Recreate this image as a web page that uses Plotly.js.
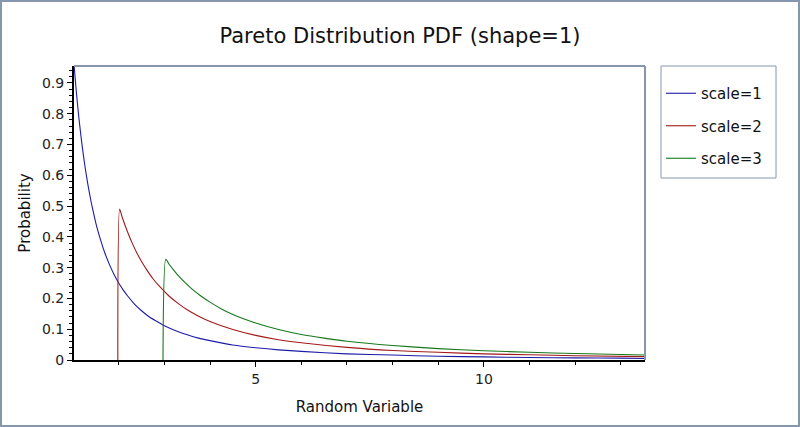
<!DOCTYPE html>
<html>
<head>
<meta charset="utf-8">
<script src="https://cdn.plot.ly/plotly-3.0.1.min.js"></script>
<style>
  body { margin: 0; background: #fff; }
  #chart { width: 800px; height: 427px; }
</style>
</head>
<body>
<div id="chart"></div>
<script>
// values
var scale1X = [1.02, 1.04, 1.07, 1.1, 1.13, 1.16, 1.2, 1.24, 1.28, 1.32, 1.36, 1.4, 1.45, 1.5, 1.55, 1.6, 1.7, 1.8, 1.9, 2.0,
  2.1, 2.2, 2.35, 2.5, 2.65, 2.8, 3.0, 3.25, 3.5, 3.75, 4.0, 4.5, 5, 5.5, 6, 7, 8, 9, 10, 11, 12, 13, 13.53];
var scale1Y = [0.961, 0.925, 0.873, 0.826, 0.783, 0.743, 0.694, 0.650, 0.610, 0.574, 0.541, 0.510, 0.476, 0.444, 0.416, 0.391,
  0.346, 0.309, 0.277, 0.250, 0.227, 0.207, 0.181, 0.160, 0.142, 0.128, 0.111, 0.095, 0.082, 0.071, 0.063, 0.049, 0.040,
  0.033, 0.028, 0.020, 0.016, 0.012, 0.010, 0.008, 0.007, 0.006, 0.005];

var scale2X = [1.98, 2.02, 2.08, 2.15, 2.22, 2.3, 2.4, 2.5, 2.6, 2.75, 2.9, 3.1, 3.3, 3.5, 3.75, 4, 4.5, 5, 5.5, 6, 7, 8, 9, 10, 11, 12, 13.53];
var scale2Y = [0, 0.490, 0.462, 0.433, 0.406, 0.378, 0.347, 0.320, 0.296, 0.264, 0.238, 0.208, 0.184, 0.163, 0.142, 0.125,
  0.099, 0.080, 0.066, 0.056, 0.041, 0.031, 0.025, 0.020, 0.017, 0.014, 0.011];

var scale3X = [2.97, 3.03, 3.1, 3.2, 3.3, 3.45, 3.6, 3.8, 4.0, 4.25, 4.5, 4.75, 5, 5.5, 6, 6.5, 7, 8, 9, 10, 11, 12, 13.53];
var scale3Y = [0, 0.327, 0.312, 0.293, 0.275, 0.252, 0.231, 0.208, 0.188, 0.166, 0.148, 0.133, 0.120, 0.099, 0.083, 0.071,
  0.061, 0.047, 0.037, 0.030, 0.025, 0.021, 0.016];

var seriesNames = ["scale=1", "scale=2", "scale=3"];
var seriesColors = ["#1c1ca8", "#a31a1a", "#16781a"];

var FONT = "DejaVu Sans, Verdana, sans-serif";
var frame = "#8596ad";

var xs = [scale1X, scale2X, scale3X];
var ys = [scale1Y, scale2Y, scale3Y];
var traces = xs.map(function (x, i) {
  return {
    type: "scatter",
    mode: "lines",
    name: seriesNames[i],
    legendgroup: "g" + i,
    x: x,
    y: ys[i],
    line: { color: seriesColors[i], width: 1.1, shape: "spline", smoothing: 0.6 },
    hoverinfo: "skip",
  };
});

// plot area spans 74..645 x 66..360 px
var L = 74, R = 645, T = 66, B = 360, W = 800, H = 427;
var pw = R - L, ph = B - T;
function px(v) { return (v - L) / pw; }
function py(v) { return (B - v) / ph; }

Plotly.newPlot(
  "chart",
  traces,
  {
    width: W,
    height: H,
    margin: { l: L, r: W - R, t: T, b: H - B, pad: 0 },
    paper_bgcolor: "#ffffff",
    plot_bgcolor: "#ffffff",
    font: { family: FONT, color: "#222", size: 14 },
    title: {
      text: "Pareto Distribution PDF (shape=1)",
      font: { family: FONT, size: 21, color: "#111" },
      x: 0.5,
      xanchor: "center",
      y: 1 - 36 / H,
      yanchor: "middle",
    },
    xaxis: {
      range: [1.02, 13.53],
      tickvals: [5, 10],
      ticktext: ["5", "10"],
      ticks: "outside",
      ticklen: 5,
      tickcolor: "#000",
      tickfont: { size: 14, color: "#222" },
      minor: { dtick: 1, tick0: 0, ticks: "outside", ticklen: 3, tickcolor: "#000", showgrid: false },
      showline: true,
      linecolor: "#000",
      linewidth: 2,
      showgrid: false,
      zeroline: false,
      title: { text: "Random Variable", font: { size: 15, color: "#111" }, standoff: 16 },
    },
    yaxis: {
      range: [0, 0.955],
      tickvals: [0, 0.1, 0.2, 0.3, 0.4, 0.5, 0.6, 0.7, 0.8, 0.9],
      ticktext: ["0", "0.1", "0.2", "0.3", "0.4", "0.5", "0.6", "0.7", "0.8", "0.9"],
      ticks: "outside",
      ticklen: 5,
      tickcolor: "#000",
      tickfont: { size: 14, color: "#222" },
      minor: { dtick: 0.02, tick0: 0, ticks: "outside", ticklen: 3, tickcolor: "#000", showgrid: false },
      showline: true,
      linecolor: "#000",
      linewidth: 2,
      showgrid: false,
      zeroline: false,
      title: { text: "Probability", font: { size: 15, color: "#111" }, standoff: 8 },
    },
    showlegend: true,
    legend: {
      x: px(661),
      y: 1 - 11 / ph,
      xanchor: "left",
      yanchor: "top",
      bgcolor: "rgba(0,0,0,0)",
      borderwidth: 0,
      font: { family: FONT, size: 15, color: "#111" },
      traceorder: "grouped",
      tracegroupgap: 10,
      itemwidth: 30,
    },
    shapes: [
      // top and right frame of the plot area
      { type: "line", xref: "paper", yref: "paper", x0: 0, x1: 1, y0: 1, y1: 1, line: { color: frame, width: 2 } },
      { type: "line", xref: "paper", yref: "paper", x0: 1, x1: 1, y0: 0, y1: 1, line: { color: frame, width: 2 } },
      // legend box
      { type: "rect", xref: "paper", yref: "paper", x0: px(661), x1: px(776), y0: py(66), y1: py(178),
        line: { color: frame, width: 1 }, fillcolor: "rgba(0,0,0,0)" },
      // outer border of the picture
      { type: "rect", xref: "paper", yref: "paper", x0: px(1), x1: px(799), y0: py(426), y1: py(1),
        line: { color: frame, width: 2 }, fillcolor: "rgba(0,0,0,0)" },
    ],
  },
  { displayModeBar: false, staticPlot: true }
);
</script>
</body>
</html>
